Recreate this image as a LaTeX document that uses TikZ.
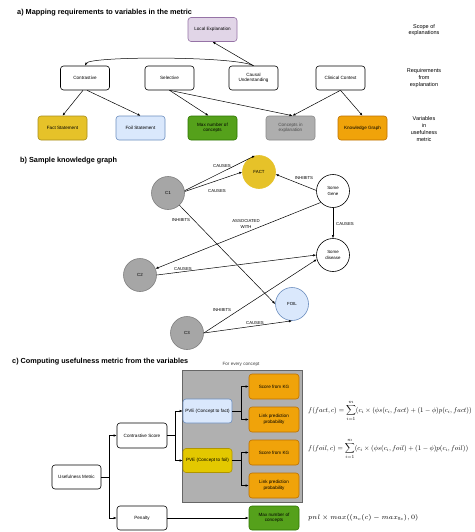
\RequirePackage{fix-cm}
\documentclass[tikz,border=0pt]{standalone}
\usepackage{fontspec}
\setmainfont{Liberation Sans}
\usetikzlibrary{arrows.meta}
\definecolor{purpF}{HTML}{E1D5E7}\definecolor{purpD}{HTML}{9673A6}
\definecolor{yelF}{HTML}{E6C229}\definecolor{yelD}{HTML}{A88E1C}
\definecolor{bluF}{HTML}{DAE8FC}\definecolor{bluD}{HTML}{6C8EBF}
\definecolor{grnF}{HTML}{55A11B}\definecolor{grnD}{HTML}{2D7600}
\definecolor{gryF}{HTML}{AEAEAE}\definecolor{gryD}{HTML}{8A8A8A}
\definecolor{orgF}{HTML}{F0A30A}\definecolor{orgD}{HTML}{BD7000}
\definecolor{cirF}{HTML}{A6A6A6}\definecolor{cirD}{HTML}{7F7F7F}
\definecolor{pveF}{HTML}{E3C800}\definecolor{pveD}{HTML}{B09500}
\definecolor{panF}{HTML}{B0B0B0}\definecolor{panD}{HTML}{666666}
\tikzset{
  bx/.style={rounded corners=3pt, draw, line width=0.6pt, minimum width=49pt, minimum height=24pt,
    align=center, inner sep=1pt, font=\fontsize{4.6}{5.6}\selectfont},
  side/.style={align=center, font=\fontsize{5.5}{6.8}\selectfont},
  ttl/.style={anchor=west, inner sep=0pt, font=\fontsize{7.3}{8}\selectfont\bfseries},
  circ/.style={circle, draw, line width=0.6pt, minimum size=33pt, inner sep=0pt, align=center,
    font=\fontsize{4.4}{5.4}\selectfont},
  lbl/.style={inner sep=0pt, align=center, font=\fontsize{4.3}{5.2}\selectfont},
  arr/.style={-{Latex[length=3pt,width=2.4pt]}, line width=0.5pt},
  fml/.style={anchor=west, inner sep=0pt},
}
\newsavebox\factbox
\newsavebox\foilbox
\begin{document}
\sbox\factbox{\fontsize{10}{12}\selectfont$\displaystyle f(fact,c)=\sum_{i=1}^{m}(c_i\times(\phi s(c_i,fact)+(1-\phi)p(c_i,fact))$}%
\sbox\foilbox{\fontsize{10}{12}\selectfont$\displaystyle f(foil,c)=\sum_{i=1}^{m}(c_i\times(\phi s(c_i,foil)+(1-\phi)p(c_i,foil))$}%
\begin{tikzpicture}[x=1pt,y=-1pt]
\pgfmathsetmacro\fsc{160/\wd\foilbox}
\path[use as bounding box, fill=white] (0,0) rectangle (474,532);
% ---------- a ----------
\node[ttl] (ta) at (17,12.5) {a) Mapping requirements to variables in the metric};
\node[bx, fill=purpF, draw=purpD] (le) at (212.5,29.5) {Local Explanation};
\node[bx] (con) at (85,78) {Contrastive};
\node[bx] (sel) at (169.5,78) {Selective};
\node[bx] (cau) at (253.5,78) {Causal\\Understanding};
\node[bx] (cli) at (340.5,78) {Clinical Context};
\node[bx, fill=yelF, draw=yelD] (fs) at (62.5,128) {Fact Statement};
\node[bx, fill=bluF, draw=bluD] (fo) at (140.5,128) {Foil Statement};
\node[bx, fill=grnF, draw=grnD] (mx) at (212.5,128) {Max number of\\concepts};
\node[bx, fill=gryF, draw=gryD, text=black!70] (cie) at (290.5,128) {Concepts in\\explanation};
\node[bx, fill=orgF, draw=orgD] (kg) at (362.5,128) {Knowledge Graph};
\node[side] (s1) at (424,30) {Scope of\\explanations};
\node[side] (s2) at (424,78) {Requirements\\from\\explanation};
\node[side] (s3) at (424,129) {Variables\\in\\usefulness\\metric};
\draw[arr] (cau.north) -- (le.south);
\draw[arr] (cau.north) .. controls (235,56) and (90,56) .. (con.north);
\draw[arr] ([xshift=-2pt]con.south) -- (fs.north);
\draw[arr] ([xshift=2pt]con.south) -- (fo.north);
\draw[arr] (sel.south) -- ([xshift=-4pt]mx.north);
\draw[arr] (sel.south) -- ([xshift=2pt]cie.north);
\draw[arr] (cli.south) -- ([xshift=2pt]cie.north);
\draw[arr] (cli.south) -- (kg.north);
% ---------- b ----------
\node[ttl] (tb) at (20,161) {b) Sample knowledge graph};
\node[circ, fill=yelF, draw=yelF] (fact) at (259,172) {FACT};
\node[circ, fill=cirF, draw=cirD] (c1) at (168,193) {C1};
\node[circ] (gene) at (333,191) {Some\\Gene};
\node[circ] (dis) at (333,255) {Some\\disease};
\node[circ, fill=cirF, draw=cirD] (c2) at (140,275) {C2};
\node[circ, fill=bluF, draw=bluD] (foil) at (292,304) {FOIL};
\node[circ, fill=cirF, draw=cirD] (c3) at (187,333) {C3};
\draw[arr] (c1.8) -- (fact.104);
\draw[arr] (c1.5) -- (fact.west);
\draw[arr] (gene.178) -- (fact.-8);
\draw[arr] (gene.south) -- (dis.north);
\draw[arr] (gene.223) -- (c2.22);
\draw[arr] (c1.-47) -- (foil.west);
\draw[arr] (c2.east) -- (dis.west);
\draw[arr] (c3.east) -- (dis.195);
\draw[arr] (c3.east) -- (foil.south);
\node[lbl] (l1) at (222,166) {CAUSES};
\node[lbl] (l2) at (217,191) {CAUSES};
\node[lbl] (l3) at (304,178.5) {INHIBITS};
\node[lbl] (l4) at (345,224) {CAUSES};
\node[lbl] (l5) at (246,224) {ASSOCIATED\\WITH};
\node[lbl] (l6) at (181,220) {INHIBITS};
\node[lbl] (l7) at (183,269) {CAUSES};
\node[lbl] (l8) at (222,310) {INHIBITS};
\node[lbl] (l9) at (255,323) {CAUSES};
% ---------- c ----------
\node[ttl] (tc) at (12,362) {c) Computing usefulness metric from the variables};
\node[lbl, text=black!75, font=\fontsize{4.6}{5.5}\selectfont] (fe) at (241,364) {For every concept};
\draw[fill=panF, draw=panD, line width=0.6pt] (182,370) rectangle (302,502);
\node[bx, fill=orgF, draw=orgD, minimum width=50pt, minimum height=25pt] (k1) at (274,386.5) {Score from KG};
\node[bx, fill=orgF, draw=orgD, minimum width=50pt, minimum height=25pt] (p1) at (274,419.5) {Link prediction\\probability};
\node[bx, fill=orgF, draw=orgD, minimum width=50pt, minimum height=25pt] (k2) at (274,452.5) {Score from KG};
\node[bx, fill=orgF, draw=orgD, minimum width=50pt, minimum height=25pt] (p2) at (274,485.5) {Link prediction\\probability};
\node[bx, fill=bluF, draw=bluD, inner sep=0pt] (vf) at (207.5,411) {PVE (Concept to fact)};
\node[bx, fill=pveF, draw=pveD, inner sep=0pt] (vo) at (207.5,460.5) {PVE (Concept to foil)};
\node[bx, minimum width=50pt, minimum height=25pt] (cs) at (142,435.5) {Contrastive Score};
\node[bx] (um) at (76.5,477) {Usefulness Metric};
\node[bx, minimum width=50pt] (pen) at (142,518) {Penalty};
\node[bx, fill=grnF, draw=grnD, minimum width=50pt] (mc) at (274,518) {Max number of\\concepts};
\draw[arr] (um.east) -- ++(8,0) |- (cs.west);
\draw[arr] (um.east) -- ++(8,0) |- (pen.west);
\draw[arr] (cs.east) -- ++(8,0) |- (vf.west);
\draw[arr] (cs.east) -- ++(8,0) |- (vo.west);
\draw[arr] (vf.east) -- ++(9,0) |- (k1.west);
\draw[arr] (vf.east) -- ++(9,0) |- (p1.west);
\draw[arr] (vo.east) -- ++(9,0) |- (k2.west);
\draw[arr] (vo.east) -- ++(9,0) |- (p2.west);
\draw[arr] (pen.east) -- (mc.west);
\node[fml] (f1) at (308,411) {\scalebox{\fsc}{\usebox\factbox}};
\node[fml] (f2) at (308,449) {\scalebox{\fsc}{\usebox\foilbox}};
\node[fml, font=\fontsize{6.6}{8}\selectfont] (f3) at (308,518) {$pnl\times max((n_c(c)-max_{\#c}),0)$};
\end{tikzpicture}
\end{document}
